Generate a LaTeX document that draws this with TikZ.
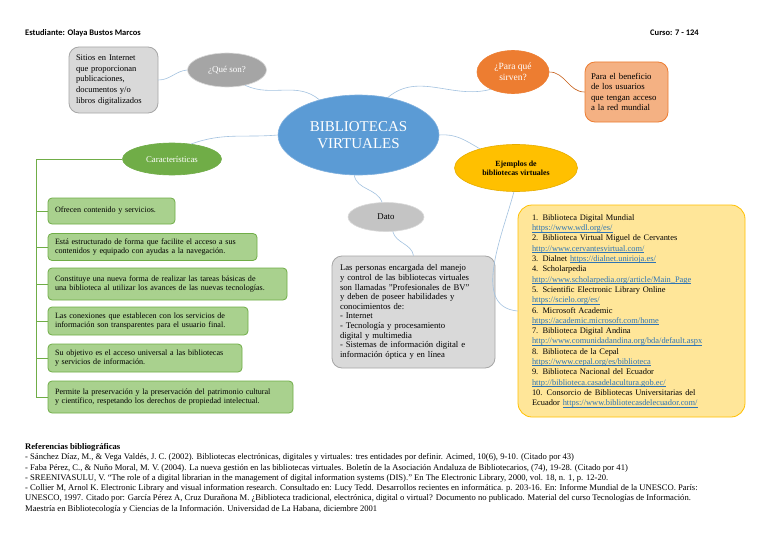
\documentclass[tikz,border=0pt]{standalone}
\usepackage{fontspec}
\setmainfont{Liberation Serif}
\newfontfamily\hdrfont{Carlito}
\usetikzlibrary{shapes.geometric}
\definecolor{connB}{HTML}{A3C2E0}
\definecolor{greenB}{HTML}{70AD47}
\definecolor{greenF}{HTML}{A9D18E}
\definecolor{greyB}{HTML}{A6A6A6}
\definecolor{greyF}{HTML}{D9D9D9}
\definecolor{ovalGrey}{HTML}{A5A5A5}
\definecolor{datoGrey}{HTML}{C4C4C4}
\definecolor{blueF}{HTML}{5B9BD5}
\definecolor{blueB}{HTML}{7FB0DE}
\definecolor{orangeF}{HTML}{ED7D31}
\definecolor{orangeBox}{HTML}{F4B183}
\definecolor{orangeLine}{HTML}{C55A11}
\definecolor{goldF}{HTML}{FFC000}
\definecolor{goldB}{HTML}{E6AD00}
\definecolor{yellowF}{HTML}{FFE699}
\definecolor{linkB}{HTML}{2E74B5}
\newcommand\mylink[1]{\textcolor{linkB}{\setbox0\hbox{#1}\rlap{\rule[-1.3pt]{\wd0}{0.4pt}}\box0}}
\begin{document}
\begin{tikzpicture}[x=1pt,y=1pt,
  conn/.style={draw=connB, line width=0.6pt},
  tree/.style={draw=greenB, line width=0.9pt},
  gbox/.style={draw=greenB, fill=greenF, rounded corners=4pt, line width=0.8pt,
    inner xsep=7pt, inner ysep=1pt, align=left, font=\fontsize{8.1}{9.8}\selectfont},
  greybox/.style={draw=greyB, fill=greyF, rounded corners=10pt, line width=0.8pt,
    inner ysep=1pt, align=left},
  oval/.style={ellipse, inner sep=0pt, line width=0.6pt, align=center},
  hdr/.style={font=\hdrfont\bfseries\fontsize{8.5}{10}\selectfont, anchor=base west, inner sep=0pt},
  refline/.style={font=\fontsize{8.6}{10.3}\selectfont, anchor=base west, inner sep=0pt}
]
\useasboundingbox[fill=white] (0,0) rectangle (768,-543);

% header
\node[hdr] (student) at (25,-36) {Estudiante: Olaya Bustos Marcos};
\node[hdr] (course) at (650,-36) {Curso: 7 - 124};

% central
\node[oval, fill=blueF, draw=blueB, minimum width=161, minimum height=80,
  text=white, font=\fontsize{15}{17}\selectfont] (bv) at (358.5,-135) {BIBLIOTECAS\\VIRTUALES};

% que son
\node[oval, fill=ovalGrey, draw=greyF, minimum width=79, minimum height=34,
  text=white, font=\fontsize{9}{10}\selectfont] (que) at (227,-70) {¿Qué son?};
\node[greybox, minimum width=89, minimum height=66, text width=75, inner xsep=7pt,
  font=\fontsize{8.5}{10.6}\selectfont] (sitios) at (113.5,-80)
  {Sitios en Internet\\que proporcionan\\publicaciones,\\documentos y/o\\libros digitalizados};

% para que sirven
\node[oval, fill=orangeF, draw=orangeF, minimum width=72, minimum height=43,
  text=white, font=\fontsize{9.5}{10.5}\selectfont] (para) at (513,-72) {¿Para qué\\sirven?};
\node[draw=orangeF, fill=orangeBox, rounded corners=10pt, line width=0.8pt, align=left,
  minimum width=83, minimum height=60, text width=71, inner xsep=6pt, inner ysep=1pt,
  font=\fontsize{8.8}{10.4}\selectfont] (obox) at (626.5,-92)
  {Para el beneficio\\de los usuarios\\que tengan acceso\\a la red mundial};

% ejemplos
\node[oval, fill=goldF, draw=goldB, minimum width=123, minimum height=47,
  font=\bfseries\fontsize{7.9}{9}\selectfont] (ejem) at (516,-168) {Ejemplos de\\bibliotecas virtuales};
\node[draw=goldF, fill=yellowF, rounded corners=14pt, line width=0.8pt, align=left,
  minimum width=227, minimum height=212, text width=199, inner xsep=14pt, inner ysep=1pt,
  font=\fontsize{8.4}{10.3}\selectfont] (yel) at (631.5,-311)
  {1. Biblioteca Digital Mundial\\
   \mylink{https://www.wdl.org/es/}\\
   2. Biblioteca Virtual Miguel de Cervantes\\
   \mylink{http://www.cervantesvirtual.com/}\\
   3. Dialnet \mylink{https://dialnet.unirioja.es/}\\
   4. Scholarpedia\\
   \mylink{http://www.scholarpedia.org/article/Main\_Page}\\
   5. Scientific Electronic Library Online\\
   \mylink{https://scielo.org/es/}\\
   6. Microsoft Academic\\
   \mylink{https://academic.microsoft.com/home}\\
   7. Biblioteca Digital Andina\\
   \mylink{http://www.comunidadandina.org/bda/default.aspx}\\
   8. Biblioteca de la Cepal\\
   \mylink{https://www.cepal.org/es/biblioteca}\\
   9. Biblioteca Nacional del Ecuador\\
   \mylink{http://biblioteca.casadelacultura.gob.ec/}\\
   10. Consorcio de Bibliotecas Universitarias del\\
   Ecuador \mylink{https://www.bibliotecasdelecuador.com/}};

% dato
\node[oval, fill=datoGrey, draw=greyF, minimum width=76, minimum height=29,
  font=\fontsize{8.8}{10}\selectfont] (dato) at (386,-217) {Dato};
\node[greybox, minimum width=163, minimum height=112, text width=147, inner xsep=8pt,
  font=\fontsize{8.7}{9.6}\selectfont] (datobox) at (413.5,-312)
  {Las personas encargada del manejo\\
   y control de las bibliotecas virtuales\\
   son llamadas "Profesionales de BV"\\
   y deben de poseer habilidades y\\
   conocimientos de:\\
   - Internet\\
   - Tecnología y procesamiento\\
   digital y multimedia\\
   - Sistemas de información digital e\\
   información óptica y en línea};

% caracteristicas
\node[oval, fill=greenB, draw=greenB, minimum width=99, minimum height=32,
  text=white, font=\fontsize{8.8}{10}\selectfont] (car) at (172,-159) {Características};
\node[gbox, minimum width=127, minimum height=26, text width=113] (g1) at (111.5,-211)
  {Ofrecen contenido y servicios.};
\node[gbox, minimum width=209, minimum height=27, text width=195] (g2) at (152.5,-247)
  {Está estructurado de forma que facilite el acceso a sus\\contenidos y equipado con ayudas a la navegación.};
\node[gbox, minimum width=239, minimum height=32, text width=225] (g3) at (167.5,-284)
  {Constituye una nueva forma de realizar las tareas básicas de\\una biblioteca al utilizar los avances de las nuevas tecnologías.};
\node[gbox, minimum width=200, minimum height=28, text width=186] (g4) at (148,-321)
  {Las conexiones que establecen con los servicios de\\información son transparentes para el usuario final.};
\node[gbox, minimum width=194, minimum height=28, text width=180] (g5) at (145,-358)
  {Su objetivo es el acceso universal a las bibliotecas\\y servicios de información.};
\node[gbox, minimum width=245, minimum height=32, text width=231] (g6) at (170.5,-397)
  {Permite la preservación y la preservación del patrimonio cultural\\y científico, respetando los derechos de propiedad intelectual.};

% tree
\coordinate (trunk) at (36,-159);
\draw[tree] (car.west) -- (trunk) |- (g6.west);
\foreach \g in {g1,g2,g3,g4,g5} \draw[tree] (trunk) |- (\g.west);

% connectors
\draw[conn] (sitios.east) to[out=0,in=185] (que.west);
\draw[conn] (que.-40) to[out=-25,in=140] (bv.138);
\draw[conn] (bv.52) to[out=40,in=195] (para.218);
\draw[draw=orangeLine, line width=0.6pt] (para.east) to[out=0,in=180] (obox.west);
\draw[conn] (bv.east) to[out=5,in=150] (ejem.152);
\draw[conn] (bv.west) to[out=185,in=20] (car.38);
\draw[conn] (bv.-96) to[out=-80,in=110] (dato.105);
\draw[conn] (dato.-65) to[out=-75,in=100] (datobox.north);
\draw[conn] (ejem.-95) to[out=-105,in=175] (yel.west);

% references
\node[refline, font=\bfseries\fontsize{8.6}{10.3}\selectfont] (reftitle) at (25,-449) {Referencias bibliográficas};
\node[refline] (r1) at (25,-459.5) {- Sánchez Díaz, M., \& Vega Valdés, J. C. (2002). Bibliotecas electrónicas, digitales y virtuales: tres entidades por definir. Acimed, 10(6), 9-10. (Citado por 43)};
\node[refline] (r2) at (25,-470) {- Faba Pérez, C., \& Nuño Moral, M. V. (2004). La nueva gestión en las bibliotecas virtuales. Boletín de la Asociación Andaluza de Bibliotecarios, (74), 19-28. (Citado por 41)};
\node[refline] (r3) at (25,-480.3) {- SREENIVASULU, V. “The role of a digital librarian in the management of digital information systems (DIS).” En The Electronic Library, 2000, vol. 18, n. 1, p. 12-20.};
\node[refline] (r4) at (25,-490.6) {- Collier M, Arnol K. Electronic Library and visual information research. Consultado en: Lucy Tedd. Desarrollos recientes en informática. p. 203-16. En: Informe Mundial de la UNESCO. París:};
\node[refline] (r5) at (25,-500.9) {UNESCO, 1997. Citado por: García Pérez A, Cruz Durañona M. ¿Biblioteca tradicional, electrónica, digital o virtual? Documento no publicado. Material del curso Tecnologías de Información.};
\node[refline] (r6) at (25,-511.2) {Maestría en Bibliotecología y Ciencias de la Información. Universidad de La Habana, diciembre 2001};
\end{tikzpicture}
\end{document}
